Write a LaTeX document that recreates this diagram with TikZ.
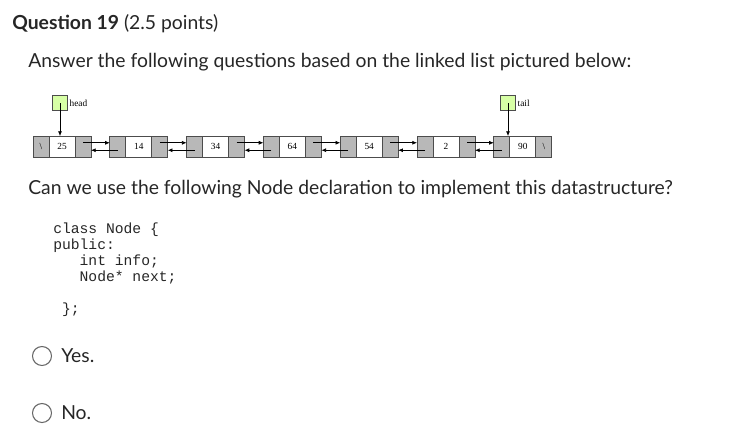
\documentclass[tikz,border=0pt]{standalone}
\usepackage{fontspec}
\setmainfont{Lato}
\newfontfamily\codefont{Liberation Mono}
\newfontfamily\serifb{Liberation Serif}
\usetikzlibrary{arrows.meta}
\begin{document}
\begin{tikzpicture}[x=0.75pt,y=-0.75pt,
  gcell/.style={draw=black!70,fill=black!28,line width=0.6pt},
  wcell/.style={draw=black!70,fill=white,line width=0.6pt},
  ptr/.style={draw=black!70,fill=green!45!yellow!35!white,line width=0.6pt},
  lnk/.style={-{Latex[length=3.5pt,width=3pt]},line width=0.5pt},
  txt/.style={anchor=west,inner sep=0pt,font=\fontsize{14.5pt}{16pt}\selectfont,text=black!85},
  num/.style={font=\serifb\fontsize{7pt}{8pt}\selectfont}]
\useasboundingbox (0,0) rectangle (741,435);
\node[txt,anchor=base west] (q) at (12,30) {\textbf{Question 19} (2.5 points)};
\node[txt,anchor=base west] (a) at (28,68) {Answer the following questions based on the linked list pictured below:};
\foreach \i/\v [count=\k] in {0/25,1/14,2/34,3/64,4/54,5/2,6/90}{
  \pgfmathsetmacro\xs{33+76.8*\i}
  \path[gcell] (\xs,136) rectangle ++(16,21);
  \path[wcell] (\xs+16,136) rectangle ++(26,21);
  \path[gcell] (\xs+42,136) rectangle ++(16,21);
  \node[num] (n\k) at (\xs+29,146.5) {\v};
  \coordinate (L\k) at (\xs,146.5);
  \coordinate (R\k) at (\xs+58,146.5);
}
\node[num] (nl) at (41,146.5) {\textbackslash};
\node[num] (nr) at (33+76.8*6+50,146.5) {\textbackslash};
\foreach \k [evaluate=\k as \j using int(\k+1)] in {1,...,6}{
  \draw[lnk] ([xshift=-6pt,yshift=2.8pt]R\k) -- ([yshift=2.8pt]L\j);
  \draw[lnk] ([xshift=6pt,yshift=-2.8pt]L\j) -- ([yshift=-2.8pt]R\k);
}
\node[ptr,minimum size=11.5pt,inner sep=0pt] (hb) at (60,103) {};
\node[num,anchor=west,inner sep=1pt] (hl) at (hb.east) {head};
\draw[lnk] (hb.center) -- (60,136) coordinate (ht);
\node[ptr,minimum size=11.5pt,inner sep=0pt] (tb) at (508,103) {};
\node[num,anchor=west,inner sep=1pt] (tl) at (tb.east) {tail};
\draw[lnk] (tb.center) -- (508,136) coordinate (tt);
\node[txt,anchor=base west] (c) at (28,194) {Can we use the following Node declaration to implement this datastructure?};
\node[anchor=north west,inner sep=0pt,align=left,font=\codefont\fontsize{11pt}{12pt}\selectfont,text=black!85] (code) at (53,223)
{class Node \{\\public:\\\ \ \ int info;\\\ \ \ Node* next;\\[12pt]\ \};};
\draw[black!60,line width=0.8pt] (42,356) circle (9.5);
\node[txt] (y) at (61,356) {Yes.};
\draw[black!60,line width=0.8pt] (42,413) circle (9.5);
\node[txt] (n) at (61,413) {No.};
\end{tikzpicture}
\end{document}
